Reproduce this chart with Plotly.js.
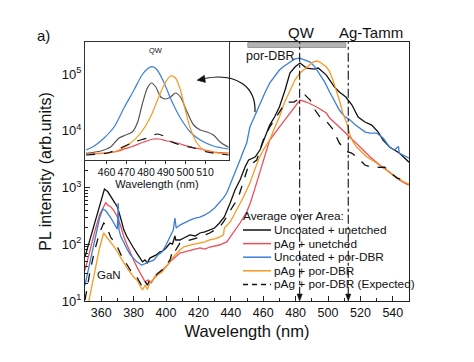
<!DOCTYPE html>
<html>
<head>
<meta charset="utf-8">
<script src="https://cdn.plot.ly/plotly-3.0.1.min.js"></script>
<style>html,body{margin:0;padding:0;background:#fff;}#chart{width:474px;height:362px;}</style>
</head>
<body>
<div id="chart"></div>
<script>
// ---------- main panel data (wavelength nm, PL intensity arb.units) ----------
const wlBlack = [350,353,356,359,362,364,366,368,370,372,374,376,378,380,382,384,385.5,387,388.5,390,392,394,396,398,400,402.5,404,405.5,406,408.6,411,414.8,418,421,424,427,430,433,436,439.6,442.6,445.7,448.8,451,455,458,461,464,467,470,473.5,476.5,479.6,482.7,486.8,491.5,494,499,504,507,511,514.8,518.6,522.8,527,531,534,538,544,548.6,550];
const intBlack = [60,119,237,492,941,850,680,550,455,290,178,134,105,86,70,57,49,53,47,57,60,65,73,76,86,105,101,140,119,119,129,146,140,158,165,178,193,237,302,533,904,1356,2297,3052,3446,4581,7762,12630,17470,26230,52260,104200,132900,156400,127600,122500,127600,95940,59020,48190,39350,28440,17470,14270,12630,9500,6874,5176,4055,3052,2800];

const wlRed = [350,353,356,359,362.8,364,366,368,370,372,374,376,378,380,382,384,385.5,387,389,391,393,395,397.5,400,402.5,405,408.6,411,414.8,418,421,424,427,430,433,437.5,441.6,445.7,449.8,452,455,460,464,470,476.5,480.6,482.7,486.8,493,499,501,507,513.6,519.8,526,532,538,544,548.6,550];
const intRed = [35,79,165,330,540,492,455,385,302,210,134,97,70,53,40,31,25,22,23.5,21,26.5,29,35,40,49,57,70,73,79,82,86,82,89.5,93,97,110,158,237,370,530,985,3052,6874,11650,20550,28440,34830,32130,26230,20550,16790,11650,7762,5176,3446,2491,1876,1356,1150,1110];

const wlBlue = [350,353,356,359,361,363,366,368,370,370.5,371,372,374,376,378,380,382,385,388,390.5,392.6,395,397.5,400,402.5,404.5,405.5,406.3,408.6,411,414.8,418,421,424,427,430,433,435.5,437.5,439.6,441.6,443.6,445.7,447.8,449.8,451.8,455,458,461,464,467,470,473,476.5,479.6,482.7,486,489,492,495,498,501,504,507,510,513.6,517,519.8,523,526,530,534,538,541,543.5,544,548.6,550];
const intBlue = [19,47,119,290,418,385,290,227,185,533,180,140,105,82,65,57,49,43,47,49,53,65,73,97,134,178,290,193,218,237,267,290,302,330,370,435,533,655,800,1110,1531,2100,3052,4400,6085,11650,19000,30830,46240,69390,92000,117600,139000,163000,185000,191400,176000,163000,132900,100000,72000,48190,33500,23220,18190,15460,12630,11200,9500,9120,9120,7450,5176,4581,5300,4055,3446,3300];

const wlOrange = [350,352.5,356,359,361.5,363,365.8,368,370,372,374,376,378,380,382,384,385.5,387,388.5,390,392.6,395,397.5,400,402.5,405,408.6,411,414.8,418,421,424,427,430,433,435.5,436,439.6,441.6,443.6,445.7,447.8,449.8,451.8,454,457,460,464,467,470,473,476.5,479.6,482.7,486.8,490.8,493,495,499,501,503,505,507,509,511.5,513.6,515.5,517.7,521,524,527,530,533,536,539,542.5,546,548.6,550];
const intOrange = [4.6,10,32,86,158,140,110,90,73,57,47,38,31,26.5,23.5,18.5,15.6,19,16,21,25.4,29,32.4,40,49,62,79,90,97,101,105,110,119,124,134,146,193,247,315,401,533,680,904,1200,1803,3052,4581,6874,11200,17470,30830,52260,78350,104200,132900,163000,169500,163000,132900,111000,78350,54400,34830,21300,13700,8414,6340,5176,4250,3446,3052,2701,2297,2034,1730,1480,1300,1200,1150];

const wlExp = [350,353,356,359,361.5,363,365.8,368,370,372,374,376,378,380,382,384,385.5,387,388.5,390,392.6,395,397.5,400,402.5,404.5,406,408.6,411,414.8,418,421,424,427,430,433,435.5,437.5,440.6,442.6,444.7,446.7,448.8,451,453.5,456,460,464,468,472,475,479,482.7,485.8,489,492,495,499,503,507,511.5,514.6,518.6,522.8,527,531,535,538,542.5,546,550];
const intExp = [10.4,32,79,158,237,218,134,110,90,67,53,43,35,30,26.5,21,17.6,22.5,19,24,26.5,31,35,43,53,86,79,105,110,119,124,134,146,158,178,201,247,302,435,533,680,1020,1531,2491,2700,3052,6874,11650,17470,26230,32130,32130,37760,42660,34830,23220,17470,14800,10700,6085,4300,4055,3300,2491,2250,2297,2297,1876,1480,1356,1356];

// ---------- inset data (QW region, arb. units) ----------
const insWlBlue = [449.5,453.7,458.7,463.8,468.8,473.9,478,480.7,483.2,485.7,489,493.3,497.5,502.5,507.6,514.3,522];
const insBlue = [10,14,22,33,52,70,85,91,93.3,90,78,58,42,28,20,14,11];
const insWlBlack = [449.5,457,462,466.3,469.7,473,475.6,478,480.7,482.7,485,487.5,490,492.5,495,497.5,500.9,504.2,507.6,511,514.3,517.7,522];
const insBlack = [6.7,9,13,22,25,28,37,55,72,77,73,63,61,63,67,63,48,35,30,28,25,18,12.7];
const insWlOrange = [449.5,463.8,472.2,477.3,482.3,486.5,490,492.5,495,497.5,500,502.5,505.9,509.3,516,522];
const insOrange = [6,8,17,27,43,63,78,84,82,70,50,32,17,10,7,6];
const insWlRed = [449.5,463.8,472.2,478.9,484,486.5,490.7,495.8,500.9,507.6,514.3,522];
const insRed = [6,8,13,18,21,21,19,17,14,11,8,7];
const insWlExp = [449.5,460.5,467,473.9,480.7,485.7,490,493.3,497.5,504.2,511,517.7,522];
const insExp = [5,7,12,18,22,26,23,18,15,12,8,6,5];

// ---------- labels ----------
const seriesNames = ["Uncoated + unetched","pAg + unetched","Uncoated + por-DBR","pAg + por-DBR","pAg + por-DBR (Expected)"];
const seriesColors = ["#111111","#e8505b","#3d7fd6","#f59a23","#111111"];
const seriesDash = ["solid","solid","solid","solid","dash"];
const xTicks = [360,380,400,420,440,460,480,500,520,540];
const yTicks = [10,100,1000,10000,100000];
const yTickText = ["10<sup>1</sup>","10<sup>2</sup>","10<sup>3</sup>","10<sup>4</sup>","10<sup>5</sup>"];
const insXTicks = [460,470,480,490,500,510];
const markerQW = 482.5, markerTamm = 512.5;
const dbrBand = [450.5, 511];

// pixel -> paper helpers (plot area: x 85..409, y 42..301)
const L=85,R=409,T=42,B=301;
const X = px => (px-L)/(R-L);
const Y = py => (B-py)/(B-T);

const mainX = [wlBlack,wlRed,wlBlue,wlOrange,wlExp];
const mainY = [intBlack,intRed,intBlue,intOrange,intExp];
const insX = [insWlBlack,insWlRed,insWlBlue,insWlOrange,insWlExp];
const insY = [insBlack,insRed,insBlue,insOrange,insExp];
const insColors = ["#555555","#e8505b","#3d7fd6","#f59a23","#111111"];

const traces = [];
for (let i=0;i<5;i++){
  traces.push({x:mainX[i], y:mainY[i], type:'scatter', mode:'lines', name:seriesNames[i],
    line:{color:seriesColors[i], width:1.3, dash:seriesDash[i]}, xaxis:'x', yaxis:'y', showlegend:false});
}
for (let i=0;i<5;i++){
  traces.push({x:insX[i], y:insY[i], type:'scatter', mode:'lines', name:seriesNames[i],
    line:{color:insColors[i], width:1.2, dash:seriesDash[i], shape:'spline', smoothing:0.8}, xaxis:'x2', yaxis:'y2', showlegend:false});
}

const minorY = [];
for (let d=1; d<=5; d++){ for (let m=2;m<=9;m++){ const v=m*Math.pow(10,d); if (v<3.7e5) minorY.push(v);} }

const font = "Liberation Sans, Arial, sans-serif";
const shapes = [
  {type:'rect', xref:'x', yref:'paper', x0:dbrBand[0], x1:dbrBand[1], y0:Y(47.5), y1:Y(42.5), fillcolor:'#b4b4b4', line:{color:'#8a8a8a', width:0.8}},
  {type:'line', xref:'x', yref:'paper', x0:markerQW, x1:markerQW, y0:0.02, y1:1, line:{color:'#111', width:1.1, dash:'dashdot'}},
  {type:'line', xref:'x', yref:'paper', x0:markerTamm, x1:markerTamm, y0:0.02, y1:1, line:{color:'#111', width:1.1, dash:'dashdot'}},
  {type:'path', xref:'x', yref:'paper', path:`M ${markerQW-1.6},${Y(294)} L ${markerQW+1.6},${Y(294)} L ${markerQW},${Y(301)} Z`, fillcolor:'#111', line:{color:'#111', width:0.5}},
  {type:'path', xref:'x', yref:'paper', path:`M ${markerTamm-1.6},${Y(294)} L ${markerTamm+1.6},${Y(294)} L ${markerTamm},${Y(301)} Z`, fillcolor:'#111', line:{color:'#111', width:0.5}},
  {type:'path', xref:'paper', yref:'paper', path:`M ${X(255)},${Y(112)} C ${X(256)},${Y(88)} ${X(238)},${Y(72)} ${X(204)},${Y(78.5)}`, line:{color:'#111', width:1.2}},
  {type:'path', xref:'paper', yref:'paper', path:`M ${X(197)},${Y(80.2)} L ${X(205.5)},${Y(82.5)} L ${X(204.3)},${Y(75.2)} Z`, fillcolor:'#111', line:{color:'#111', width:0.5}}
];

const legY0 = 230, legDy = 13.6;
for (let i=0;i<5;i++){
  const yy = legY0 + i*legDy;
  shapes.push({type:'line', xref:'paper', yref:'paper', x0:X(243), x1:X(271), y0:Y(yy), y1:Y(yy),
    line:{color:seriesColors[i], width:1.5, dash: i===4 ? '5px,4px' : 'solid'}});
}

function ann(text, px, py, size, xanchor){
  return {text:text, x:X(px), y:Y(py), xref:'paper', yref:'paper', xanchor:xanchor||'center', yanchor:'middle',
    showarrow:false, font:{size:size, color:'#111'}};
}
const annotations = [
  ann('a)', 43, 35, 15),
  ann('QW', 301, 32, 15),
  ann('Ag-Tamm', 371, 32, 15),
  ann('por-DBR', 270, 55.5, 12.5),
  ann('GaN', 109, 275, 11.5),
  ann('QW', 156, 50, 7.5),
  ann('Average over Area:', 241, 216, 11.8, 'left')
];
for (let i=0;i<5;i++){
  annotations.push(ann(seriesNames[i], 271.5, legY0+i*legDy, 11.8, 'left'));
}

const layout = {
  width:474, height:362,
  margin:{l:L, r:474-R, t:T, b:362-B, pad:0},
  paper_bgcolor:'#fff', plot_bgcolor:'#fff',
  font:{family:font, color:'#111'},
  showlegend:false,
  xaxis:{domain:[0,1], range:[350,550], showline:true, mirror:true, linecolor:'#222', linewidth:1.2,
    ticks:'inside', ticklen:5, tickwidth:1, tickcolor:'#222', tickvals:xTicks, showgrid:false, zeroline:false,
    minor:{ticks:'inside', ticklen:3, dtick:10, tick0:350, tickcolor:'#222', showgrid:false},
    tickfont:{size:12.5, color:'#111'}, tickangle:0,
    title:{text:'Wavelength (nm)', font:{size:16.5, color:'#111'}, standoff:6}},
  yaxis:{domain:[0,1], type:'log', range:[1, 5.565], showline:true, mirror:true, linecolor:'#222', linewidth:1.2,
    ticks:'inside', ticklen:5, tickwidth:1, tickcolor:'#222', tickvals:yTicks, ticktext:yTickText, showgrid:false, zeroline:false,
    minor:{ticks:'inside', ticklen:3, tickvals:minorY, tickcolor:'#222', showgrid:false},
    tickfont:{size:13, color:'#111'},
    title:{text:'PL intensity (arb.units)', font:{size:16, color:'#111'}, standoff:6}},
  xaxis2:{domain:[0, X(229)], anchor:'y2', range:[449,522.2], showline:true, mirror:true, linecolor:'#333', linewidth:1.1,
    ticks:'outside', ticklen:2.5, tickcolor:'#333', tickvals:insXTicks, showgrid:false, zeroline:false,
    tickfont:{size:10.5, color:'#111'}, tickangle:0,
    title:{text:'Wavelength (nm)', font:{size:11, color:'#111'}, standoff:3}},
  yaxis2:{domain:[Y(160), 1], anchor:'x2', range:[0,118], showline:true, mirror:true, linecolor:'#333', linewidth:1.1,
    ticks:'', showticklabels:false, showgrid:false, zeroline:false},
  shapes:shapes,
  annotations:annotations
};

Plotly.newPlot('chart', traces, layout, {staticPlot:true, displayModeBar:false});
</script>
</body>
</html>
